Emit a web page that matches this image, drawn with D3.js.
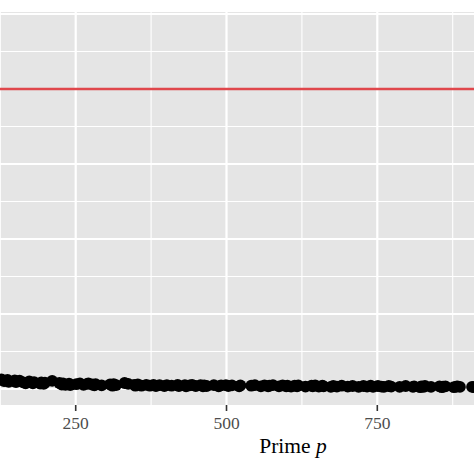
<!DOCTYPE html>
<html>
<head>
<meta charset="utf-8">
<script src="https://cdn.jsdelivr.net/npm/d3@7"></script>
<style>
  body { margin: 0; background: #fff; }
  svg { display: block; }
</style>
</head>
<body>
<div id="chart"></div>
<script>
// Primes on the x axis (only the ones that fall in the visible window)
const primes = [
  101, 103, 107, 109, 113, 127, 131, 137, 139, 149,
  151, 157, 163, 167, 173, 179, 181, 191, 193, 197,
  199, 211, 223, 227, 229, 233, 239, 241, 251, 257,
  263, 269, 271, 277, 281, 283, 293, 307, 311, 313,
  317, 331, 337, 347, 349, 353, 359, 367, 373, 379,
  383, 389, 397, 401, 409, 419, 421, 431, 433, 439,
  443, 449, 457, 461, 463, 467, 479, 487, 491, 499,
  503, 509, 521, 523, 541, 547, 557, 563, 569, 571,
  577, 587, 593, 599, 601, 607, 613, 617, 619, 631,
  641, 643, 647, 653, 659, 661, 673, 677, 683, 691,
  701, 709, 719, 727, 733, 739, 743, 751, 757, 761,
  769, 773, 787, 797, 809, 811, 821, 823, 827, 829,
  839, 853, 857, 859, 863, 877, 881, 883, 887, 907,
  911
];

// Values, one per prime
const values = [
  0.031, 0.027, 0.033, 0.029, 0.026, 0.032, 0.026, 0.030, 0.024, 0.029,
  0.023, 0.028, 0.022, 0.019, 0.025, 0.019, 0.023, 0.018, 0.022, 0.017,
  0.021, 0.027, 0.020, 0.015, 0.019, 0.014, 0.018, 0.013, 0.016, 0.019,
  0.014, 0.017, 0.019, 0.015, 0.012, 0.016, 0.012, 0.015, 0.011, 0.016,
  0.013, 0.020, 0.017, 0.014, 0.011, 0.015, 0.011, 0.014, 0.011, 0.014,
  0.010, 0.013, 0.010, 0.013, 0.011, 0.014, 0.010, 0.013, 0.009, 0.012,
  0.014, 0.010, 0.013, 0.009, 0.012, 0.010, 0.013, 0.009, 0.012, 0.013,
  0.010, 0.012, 0.009, 0.012, 0.011, 0.013, 0.009, 0.012, 0.009, 0.011,
  0.013, 0.009, 0.012, 0.009, 0.011, 0.008, 0.011, 0.009, 0.012, 0.008,
  0.011, 0.009, 0.012, 0.008, 0.011, 0.009, 0.007, 0.010, 0.008, 0.011,
  0.008, 0.010, 0.007, 0.010, 0.008, 0.011, 0.007, 0.010, 0.008, 0.007,
  0.010, 0.008, 0.007, 0.010, 0.007, 0.009, 0.006, 0.009, 0.007, 0.010,
  0.007, 0.009, 0.006, 0.008, 0.009, 0.006, 0.008, 0.009, 0.007, 0.007,
  0.006
];

const xMajor = [250, 500, 750];
const xMinor = [125, 375, 625, 875];
const yMajor = [0, 0.25, 0.5, 0.75, 1, 1.25];
const yMinor = [0.125, 0.375, 0.625, 0.875, 1.125];
const refValue = 1;
const xTitle = 'Prime ';
const xTitleVar = 'p';

const width = 474;
const height = 474;
const panel = { left: 0, right: 474, top: 12, bottom: 405 };

const x = d3.scaleLinear()
  .domain([124.5, 910.3])
  .range([0, 474]);

const y = d3.scaleLinear()
  .domain([-0.0533, 1.2567])
  .range([panel.bottom, panel.top]);

let svg = d3.select('#chart').append('svg')
  .attr('width', width)
  .attr('height', height);

svg.append('defs').append('clipPath')
  .attr('id', 'panel-clip')
  .append('rect')
  .attr('x', panel.left)
  .attr('y', panel.top)
  .attr('width', panel.right - panel.left)
  .attr('height', panel.bottom - panel.top);

let g = svg.append('g')
  .attr('clip-path', 'url(#panel-clip)');

// Panel background
g.append('rect')
  .attr('x', panel.left)
  .attr('y', panel.top)
  .attr('width', panel.right - panel.left)
  .attr('height', panel.bottom - panel.top)
  .attr('fill', '#e5e5e5');

// Grid: minor lines first, then major
g.selectAll('.y-minor').data(yMinor).enter().append('line')
  .attr('x1', panel.left).attr('x2', panel.right)
  .attr('y1', d => y(d)).attr('y2', d => y(d))
  .attr('stroke', '#fff').attr('stroke-width', 1.1);

g.selectAll('.x-minor').data(xMinor).enter().append('line')
  .attr('y1', panel.top).attr('y2', panel.bottom)
  .attr('x1', d => x(d)).attr('x2', d => x(d))
  .attr('stroke', '#fff').attr('stroke-width', 1.1);

g.selectAll('.y-major').data(yMajor).enter().append('line')
  .attr('x1', panel.left).attr('x2', panel.right)
  .attr('y1', d => y(d)).attr('y2', d => y(d))
  .attr('stroke', '#fff').attr('stroke-width', 2.2);

g.selectAll('.x-major').data(xMajor).enter().append('line')
  .attr('y1', panel.top).attr('y2', panel.bottom)
  .attr('x1', d => x(d)).attr('x2', d => x(d))
  .attr('stroke', '#fff').attr('stroke-width', 2.2);

// Reference line
g.append('line')
  .attr('x1', panel.left).attr('x2', panel.right)
  .attr('y1', y(refValue)).attr('y2', y(refValue))
  .attr('stroke', '#e0474c')
  .attr('stroke-width', 2.4);

// Points
g.selectAll('circle')
  .data(primes.map((p, i) => ({ p: p, v: values[i] })))
  .enter().append('circle')
  .attr('cx', d => x(d.p))
  .attr('cy', d => y(d.v))
  .attr('r', 5.9)
  .attr('fill', '#000');

// X axis ticks and labels
let axis = svg.append('g');
axis.selectAll('line').data(xMajor).enter().append('line')
  .attr('x1', d => x(d)).attr('x2', d => x(d))
  .attr('y1', panel.bottom).attr('y2', panel.bottom + 6)
  .attr('stroke', '#333').attr('stroke-width', 1.6);

axis.selectAll('text').data(xMajor).enter().append('text')
  .attr('x', d => x(d))
  .attr('y', 429)
  .attr('text-anchor', 'middle')
  .attr('font-family', '"Liberation Serif", "DejaVu Serif", serif')
  .attr('font-size', 17.5)
  .attr('fill', '#4d4d4d')
  .text(d => d);

// Axis title
let title = svg.append('text')
  .attr('x', 293)
  .attr('y', 453)
  .attr('text-anchor', 'middle')
  .attr('font-family', '"Liberation Serif", "DejaVu Serif", serif')
  .attr('font-size', 21.5)
  .attr('fill', '#000');
title.append('tspan').text(xTitle);
title.append('tspan').attr('font-style', 'italic').text(xTitleVar);
</script>
</body>
</html>
